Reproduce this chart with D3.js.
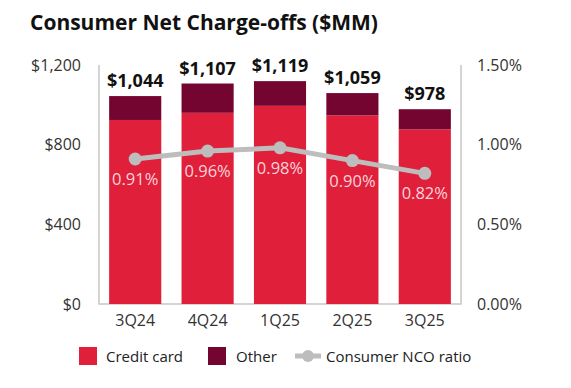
<!DOCTYPE html>
<html>
<head>
<meta charset="utf-8">
<script src="https://cdn.jsdelivr.net/npm/d3@7"></script>
<style>
  body { margin: 0; background: #fff; }
  svg { font-family: "Open Sans", sans-serif; }
</style>
</head>
<body>
<div id="chart"></div>
<script>
const quarters = ['3Q24', '4Q24', '1Q25', '2Q25', '3Q25'];
const creditCard = [924, 960, 995, 947, 877];
const other = [120, 147, 124, 112, 101];
const totals = [1044, 1107, 1119, 1059, 978];
const ncoRatio = [0.91, 0.96, 0.98, 0.90, 0.82];
const leftTicks = [0, 400, 800, 1200];
const rightTicks = [0, 0.5, 1.0, 1.5];

const width = 571, height = 388;
const plotLeft = 99, plotRight = 461, plotTop = 65, plotBottom = 304;

const svg = d3.select('#chart').append('svg')
    .attr('width', width)
    .attr('height', height);

svg.append('text')
    .attr('x', 30)
    .attr('y', 30)
    .attr('font-size', 21)
    .attr('font-weight', 700)
    .attr('fill', '#111')
    .text('Consumer Net Charge-offs ($MM)');

const x = d3.scaleBand()
    .domain(quarters)
    .range([plotLeft, plotRight])
    .paddingInner(0.28)
    .paddingOuter(0.14);

const y = d3.scaleLinear().domain([0, 1200]).range([plotBottom, plotTop]);
const y2 = d3.scaleLinear().domain([0, 1.5]).range([plotBottom, plotTop]);

// axis lines
const axisColor = '#c6c6c6';
svg.append('path')
    .attr('d', `M${plotLeft},${plotTop}V${plotBottom}H${plotRight}V${plotTop}`)
    .attr('fill', 'none')
    .attr('stroke', axisColor)
    .attr('stroke-width', 1.5);

// left tick labels
const leftAxis = d3.axisLeft(y).tickValues(leftTicks)
    .tickFormat(d => '$' + d3.format(',')(d)).tickSize(0).tickPadding(18);
const gl = svg.append('g').attr('transform', `translate(${plotLeft},0)`).call(leftAxis);
gl.select('.domain').remove();
gl.selectAll('text').attr('font-size', 16).attr('fill', '#333').attr('font-family', '"Open Sans", sans-serif');

// right tick labels
const rightAxis = d3.axisRight(y2).tickValues(rightTicks)
    .tickFormat(d => d3.format('.2f')(d) + '%').tickSize(0).tickPadding(16);
const gr = svg.append('g').attr('transform', `translate(${plotRight},0)`).call(rightAxis);
gr.select('.domain').remove();
gr.selectAll('text').attr('font-size', 16).attr('fill', '#333').attr('font-family', '"Open Sans", sans-serif');

// x labels
const bottomAxis = d3.axisBottom(x).tickSize(0).tickPadding(11);
const gb = svg.append('g').attr('transform', `translate(0,${plotBottom})`).call(bottomAxis);
gb.select('.domain').remove();
gb.selectAll('text').attr('font-size', 16).attr('fill', '#333').attr('font-family', '"Open Sans", sans-serif');

const red = '#e01f3b', maroon = '#730530';

// stacked bars
svg.selectAll('rect.cc')
    .data(quarters)
    .enter().append('rect')
    .attr('class', 'cc')
    .attr('x', d => x(d))
    .attr('width', x.bandwidth())
    .attr('y', (d, i) => y(creditCard[i]))
    .attr('height', (d, i) => y(0) - y(creditCard[i]))
    .attr('fill', red);

svg.selectAll('rect.other')
    .data(quarters)
    .enter().append('rect')
    .attr('class', 'other')
    .attr('x', d => x(d))
    .attr('width', x.bandwidth())
    .attr('y', (d, i) => y(creditCard[i] + other[i]))
    .attr('height', (d, i) => y(creditCard[i]) - y(creditCard[i] + other[i]))
    .attr('fill', maroon);

// total labels
svg.selectAll('text.total')
    .data(quarters)
    .enter().append('text')
    .attr('class', 'total')
    .attr('x', d => x(d) + x.bandwidth() / 2)
    .attr('y', (d, i) => y(totals[i]) - 9)
    .attr('text-anchor', 'middle')
    .attr('font-size', 18)
    .attr('font-weight', 700)
    .attr('fill', '#111')
    .text((d, i) => '$' + d3.format(',')(totals[i]));

// NCO line
const line = d3.line()
    .x((d, i) => x(quarters[i]) + x.bandwidth() / 2)
    .y(d => y2(d));

svg.append('path')
    .datum(ncoRatio)
    .attr('d', line)
    .attr('fill', 'none')
    .attr('stroke', '#bdbdbd')
    .attr('stroke-width', 5);

svg.selectAll('circle.nco')
    .data(ncoRatio)
    .enter().append('circle')
    .attr('class', 'nco')
    .attr('cx', (d, i) => x(quarters[i]) + x.bandwidth() / 2)
    .attr('cy', d => y2(d))
    .attr('r', 6.5)
    .attr('fill', '#bdbdbd');

svg.selectAll('text.nco')
    .data(ncoRatio)
    .enter().append('text')
    .attr('class', 'nco')
    .attr('x', (d, i) => x(quarters[i]) + x.bandwidth() / 2)
    .attr('y', d => y2(d) + 26)
    .attr('text-anchor', 'middle')
    .attr('font-size', 16.5)
    .attr('fill', '#fbd3da')
    .text(d => d3.format('.2f')(d) + '%');

// legend
const legend = svg.append('g').attr('transform', 'translate(0,356)');
legend.append('rect').attr('x', 79).attr('y', -9).attr('width', 18).attr('height', 18).attr('fill', red);
legend.append('text').attr('x', 106).attr('y', 5.5).attr('font-size', 15).attr('fill', '#222').text('Credit card');
legend.append('rect').attr('x', 208).attr('y', -9).attr('width', 18).attr('height', 18).attr('fill', maroon);
legend.append('text').attr('x', 236).attr('y', 5.5).attr('font-size', 15).attr('fill', '#222').text('Other');
legend.append('line').attr('x1', 295).attr('x2', 321).attr('y1', 0).attr('y2', 0)
    .attr('stroke', '#bdbdbd').attr('stroke-width', 5);
legend.append('circle').attr('cx', 308).attr('cy', 0).attr('r', 6).attr('fill', '#bdbdbd');
legend.append('text').attr('x', 326).attr('y', 5.5).attr('font-size', 15).attr('fill', '#222').text('Consumer NCO ratio');
</script>
</body>
</html>
